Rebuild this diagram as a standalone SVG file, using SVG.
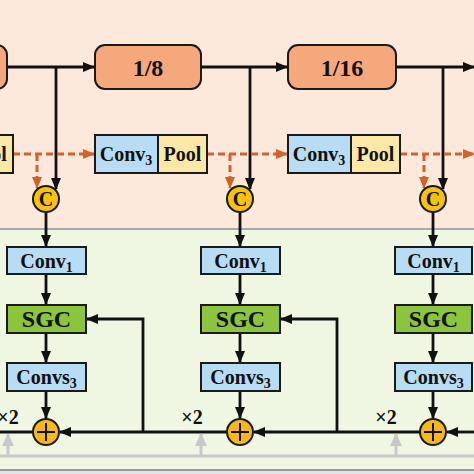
<svg xmlns="http://www.w3.org/2000/svg" width="474" height="474" viewBox="0 0 474 474">
<style>
text{font-family:"Liberation Serif","Times New Roman",serif;font-weight:bold;fill:#111;text-anchor:middle}
.scale{fill:#f5a87c;stroke:#1a1a1a;stroke-width:2}
.blue{fill:#b8dcf3;stroke:#1a1a1a;stroke-width:2}
.yel{fill:#fce8a6;stroke:#1a1a1a;stroke-width:2}
.sgc{fill:#8cc43e;stroke:#1a1a1a;stroke-width:2}
.cc{fill:#f6c20e;stroke:#1a1a1a;stroke-width:2}
.pc{fill:#f7b81c;stroke:#1a1a1a;stroke-width:2}
.ln{fill:none;stroke:#111;stroke-width:2.8}
.dash{fill:none;stroke:#d4612a;stroke-width:3;stroke-dasharray:7,4}
.grey{fill:none;stroke:#c8c8c8;stroke-width:3}
.t24{font-size:24px}
.t20{font-size:20px}
.sub{font-size:14px}
</style>
<defs>
<marker id="ab" markerUnits="userSpaceOnUse" markerWidth="12" markerHeight="12" refX="11" refY="6" orient="auto"><path d="M0,1 L12,6 L0,11 z" fill="#111"/></marker>
<marker id="ao" markerUnits="userSpaceOnUse" markerWidth="12" markerHeight="12" refX="11" refY="6" orient="auto"><path d="M0,1 L12,6 L0,11 z" fill="#d4612a"/></marker>
<marker id="ag" markerUnits="userSpaceOnUse" markerWidth="14" markerHeight="14" refX="12" refY="7" orient="auto"><path d="M0,1 L13,7 L0,13 z" fill="#c8c8c8"/></marker>
</defs>
<rect x="0" y="0" width="474" height="229" fill="#fde8dc"/>
<rect x="0" y="229" width="474" height="241" fill="#eff7e3"/>
<line x1="0" y1="229" x2="474" y2="229" stroke="#a9a9a9" stroke-width="2"/>
<rect x="0" y="470" width="474" height="4" fill="#e4e4e4"/>
<line x1="0" y1="470" x2="474" y2="470" stroke="#9a9a9a" stroke-width="2"/>
<g id="connectors">
<path class="ln" d="M7,67 H94" marker-end="url(#ab)"/>
<path class="ln" d="M201,67 H287" marker-end="url(#ab)"/>
<path class="ln" d="M396,67 H474" marker-end="url(#ab)"/>
<path class="ln" d="M56,67 V189" marker-end="url(#ab)"/>
<path class="ln" d="M250,67 V189" marker-end="url(#ab)"/>
<path class="ln" d="M443,67 V189" marker-end="url(#ab)"/>
<path class="dash" d="M13,154 H94" marker-end="url(#ao)"/>
<path class="dash" d="M207,154 H287" marker-end="url(#ao)"/>
<path class="dash" d="M400,154 H474" marker-end="url(#ao)"/>
<path class="dash" d="M37,154 V188" marker-end="url(#ao)"/>
<path class="dash" d="M230,154 V188" marker-end="url(#ao)"/>
<path class="dash" d="M424,154 V188" marker-end="url(#ao)"/>
<path class="ln" d="M46,212 V246" marker-end="url(#ab)"/>
<path class="ln" d="M240,212 V246" marker-end="url(#ab)"/>
<path class="ln" d="M433,212 V246" marker-end="url(#ab)"/>
<path class="ln" d="M46,274 V304" marker-end="url(#ab)"/>
<path class="ln" d="M240,274 V304" marker-end="url(#ab)"/>
<path class="ln" d="M433,274 V304" marker-end="url(#ab)"/>
<path class="ln" d="M46,333 V362" marker-end="url(#ab)"/>
<path class="ln" d="M240,333 V362" marker-end="url(#ab)"/>
<path class="ln" d="M433,333 V362" marker-end="url(#ab)"/>
<path class="ln" d="M46,391 V418" marker-end="url(#ab)"/>
<path class="ln" d="M240,391 V418" marker-end="url(#ab)"/>
<path class="ln" d="M433,391 V418" marker-end="url(#ab)"/>
<path class="ln" d="M474,432 H447" marker-end="url(#ab)"/>
<path class="ln" d="M420,432 H254" marker-end="url(#ab)"/>
<path class="ln" d="M337,432 V319 H281" marker-end="url(#ab)"/>
<path class="ln" d="M227,432 H60" marker-end="url(#ab)"/>
<path class="ln" d="M143,432 V319 H87" marker-end="url(#ab)"/>
<path class="ln" d="M33,432 H0"/>
<path class="grey" d="M0,456 H474"/>
<path class="grey" d="M8,456 V434" marker-end="url(#ag)"/>
<path class="grey" d="M201,456 V434" marker-end="url(#ag)"/>
<path class="grey" d="M396,456 V434" marker-end="url(#ag)"/>
</g>
<g id="scale-left"><rect class="scale" x="-99" y="45" width="106" height="44" rx="10"/></g>
<g id="scale-1-8"><rect class="scale" x="95" y="45" width="106" height="44" rx="10"/><text class="t24" x="148" y="76">1/8</text></g>
<g id="scale-1-16"><rect class="scale" x="288" y="45" width="108" height="44" rx="10"/><text class="t24" x="342" y="76">1/16</text></g>
<g id="pool-left"><rect class="yel" x="-36" y="135" width="49" height="38"/><text class="t20" x="-12" y="161">Pool</text></g>
<g id="conv3-a"><rect class="blue" x="95" y="135" width="63" height="38"/><text class="t20" x="126" y="161">Conv<tspan class="sub" dy="4">3</tspan></text></g>
<g id="pool-a"><rect class="yel" x="158" y="135" width="49" height="38"/><text class="t20" x="182.5" y="161">Pool</text></g>
<g id="conv3-b"><rect class="blue" x="288" y="135" width="63" height="38"/><text class="t20" x="319" y="161">Conv<tspan class="sub" dy="4">3</tspan></text></g>
<g id="pool-b"><rect class="yel" x="351" y="135" width="49" height="38"/><text class="t20" x="375.5" y="161">Pool</text></g>
<g id="concat-1"><circle class="cc" cx="46" cy="199" r="13"/><text class="t20" x="46" y="206">C</text></g>
<g id="concat-2"><circle class="cc" cx="240" cy="199" r="13"/><text class="t20" x="240" y="206">C</text></g>
<g id="concat-3"><circle class="cc" cx="433" cy="199" r="13"/><text class="t20" x="433" y="206">C</text></g>
<g id="conv1-1"><rect class="blue" x="7" y="247" width="79" height="27"/><text class="t20" x="46.5" y="268">Conv<tspan class="sub" dy="4">1</tspan></text></g>
<g id="conv1-2"><rect class="blue" x="201" y="247" width="79" height="27"/><text class="t20" x="240.5" y="268">Conv<tspan class="sub" dy="4">1</tspan></text></g>
<g id="conv1-3"><rect class="blue" x="395" y="247" width="77" height="27"/><text class="t20" x="433.5" y="268">Conv<tspan class="sub" dy="4">1</tspan></text></g>
<g id="sgc-1"><rect class="sgc" x="7" y="305" width="79" height="28"/><text class="t24" x="46.5" y="327">SGC</text></g>
<g id="sgc-2"><rect class="sgc" x="201" y="305" width="79" height="28"/><text class="t24" x="240.5" y="327">SGC</text></g>
<g id="sgc-3"><rect class="sgc" x="395" y="305" width="77" height="28"/><text class="t24" x="433.5" y="327">SGC</text></g>
<g id="convs3-1"><rect class="blue" x="7" y="363" width="79" height="28"/><text class="t20" x="46.5" y="384">Convs<tspan class="sub" dy="4">3</tspan></text></g>
<g id="convs3-2"><rect class="blue" x="201" y="363" width="79" height="28"/><text class="t20" x="240.5" y="384">Convs<tspan class="sub" dy="4">3</tspan></text></g>
<g id="convs3-3"><rect class="blue" x="395" y="363" width="77" height="28"/><text class="t20" x="433.5" y="384">Convs<tspan class="sub" dy="4">3</tspan></text></g>
<g id="add-1"><circle class="pc" cx="46" cy="432" r="13"/><path d="M37,432 H55 M46,423 V441" stroke="#111" stroke-width="2"/></g>
<g id="add-2"><circle class="pc" cx="240" cy="432" r="13"/><path d="M231,432 H249 M240,423 V441" stroke="#111" stroke-width="2"/></g>
<g id="add-3"><circle class="pc" cx="433" cy="432" r="13"/><path d="M424,432 H442 M433,423 V441" stroke="#111" stroke-width="2"/></g>
<g id="labels">
<text class="t20" x="8" y="424">×2</text>
<text class="t20" x="192" y="424">×2</text>
<text class="t20" x="386" y="424">×2</text>
</g>
</svg>
